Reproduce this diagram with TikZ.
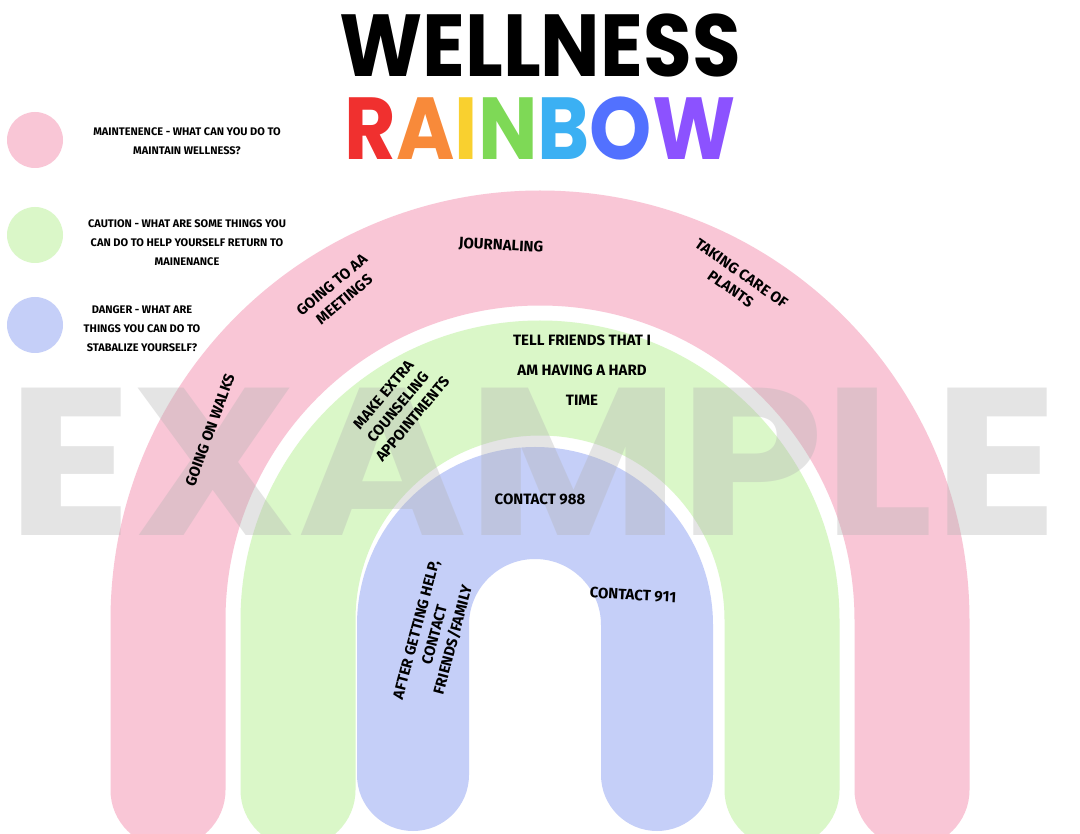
\documentclass[tikz,border=0pt]{standalone}
\usepackage{fontspec}
\setmainfont{Poppins}[BoldFont={* Bold}]
\newfontfamily\hand{Fira Sans}[BoldFont={* Bold}]
\begin{document}
\begin{tikzpicture}[x=1pt,y=-1pt,
  band/.style={line cap=round,line width=#1},
  lab/.style={font=\hand\bfseries\fontsize{15}{19}\selectfont,align=center,inner sep=0},
  leg/.style={font=\hand\bfseries\fontsize{11}{19}\selectfont,align=center,inner sep=0}]
\definecolor{pk}{HTML}{F9C6D6}\definecolor{gr}{HTML}{DAF7C8}\definecolor{bl}{HTML}{C5CFF8}
\useasboundingbox[fill=white] (0,0) rectangle (1080,834);
\draw[band=115pt,pk] (168,790) -- (168,620) arc[start angle=180,end angle=360,radius=372] -- (912,790);
\draw[band=115pt,gr] (298,790) -- (298,620) arc[start angle=180,end angle=360,radius=242] -- (782,790);
\draw[band=112pt,bl] (413,775) -- (413,625) arc[start angle=180,end angle=360,radius=122] -- (657,775);
\node[font=\bfseries\fontsize{210}{210}\selectfont,text=gray!60,opacity=0.35,inner sep=0,xscale=1.1] (wm) at (533,462) {EXAMPLE};
\node[font=\bfseries\fontsize{88}{88}\selectfont,inner sep=0,xscale=0.9] (t1) at (540,45) {WELLNESS};
\node[font=\bfseries\fontsize{88}{88}\selectfont,inner sep=0,xscale=0.9] (t2) at (540,128) {\color[HTML]{F0302F}R\color[HTML]{F88A3A}A\color[HTML]{F9D02F}I\color[HTML]{7ED956}N\color[HTML]{3BB0F3}B\color[HTML]{5271FF}O\color[HTML]{8C52FF}W};
\fill[pk] (35,140) circle (28) coordinate (c1);
\fill[gr] (35,235) circle (28) coordinate (c2);
\fill[bl] (35,325) circle (28) coordinate (c3);
\node[leg] (l1) at (187,141) {MAINTENENCE - WHAT CAN YOU DO TO\\MAINTAIN WELLNESS?};
\node[leg] (l2) at (187,243) {CAUTION - WHAT ARE SOME THINGS YOU\\CAN DO TO HELP YOURSELF RETURN TO\\MAINENANCE};
\node[leg] (l3) at (142,329) {DANGER - WHAT ARE\\THINGS YOU CAN DO TO\\STABALIZE YOURSELF?};
\node[lab,rotate=70] (a) at (210,430) {GOING ON WALKS};
\node[lab,rotate=40] (b) at (338,292) {GOING TO AA\\MEETINGS};
\node[lab,rotate=-3] (c) at (501,246) {JOURNALING};
\node[lab,rotate=-35] (d) at (736,281) {TAKING CARE OF\\PLANTS};
\node[lab,rotate=50] (e) at (398,407) {MAKE EXTRA\\COUNSELING\\APPOINTMENTS};
\node[lab,font=\hand\bfseries\fontsize{15}{30}\selectfont] (f) at (582,370) {TELL FRIENDS THAT I\\AM HAVING A HARD\\TIME};
\node[lab] (g) at (540,499) {CONTACT 988};
\node[lab,rotate=-3] (h) at (633,595) {CONTACT 911};
\node[lab,rotate=75] (i) at (435,635) {AFTER GETTING HELP,\\CONTACT\\FRIENDS/FAMILY};
\end{tikzpicture}
\end{document}
